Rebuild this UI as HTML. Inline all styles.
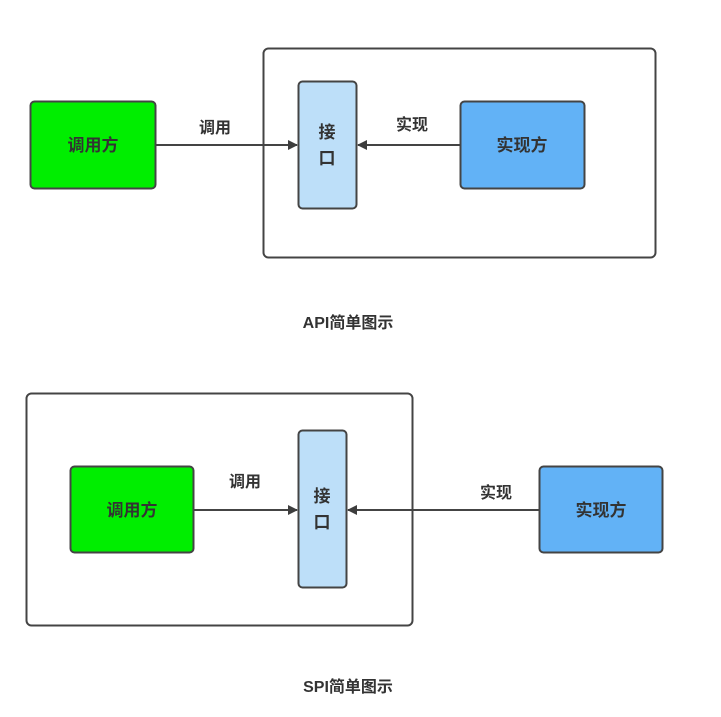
<!DOCTYPE html>
<html><head><meta charset="utf-8"><style>
html,body{margin:0;padding:0;background:#fff;}
</style></head><body>
<svg width="721" height="717" xmlns="http://www.w3.org/2000/svg" style="display:block;font-family:'Liberation Sans','Noto Sans CJK SC',sans-serif;">
<defs>
<marker id="a" markerWidth="10" markerHeight="10" refX="9" refY="5" orient="auto" markerUnits="userSpaceOnUse">
<path d="M0,0 L10,5 L0,10 Z" fill="#3d3d3d"/>
</marker>
</defs>
<g stroke="#444" stroke-width="2">
<rect x="263.5" y="48.5" width="392" height="209" rx="5" fill="#fff"/>
<rect x="30.5" y="101.5" width="125" height="87" rx="4" fill="#00ee00"/>
<rect x="298.5" y="81.5" width="58" height="127" rx="4" fill="#bddff9"/>
<rect x="460.5" y="101.5" width="124" height="87" rx="4" fill="#62b2f6"/>
<line x1="156" y1="145" x2="297" y2="145" marker-end="url(#a)"/>
<line x1="460" y1="145" x2="358" y2="145" marker-end="url(#a)"/>

<rect x="26.5" y="393.5" width="386" height="232" rx="5" fill="#fff"/>
<rect x="70.5" y="466.5" width="123" height="86" rx="4" fill="#00ee00"/>
<rect x="298.5" y="430.5" width="48" height="157" rx="4" fill="#bddff9"/>
<rect x="539.5" y="466.5" width="123" height="86" rx="4" fill="#62b2f6"/>
<line x1="194" y1="510" x2="297" y2="510" marker-end="url(#a)"/>
<line x1="539" y1="510" x2="348" y2="510" marker-end="url(#a)"/>
</g>
<g fill="#333" font-weight="bold" text-anchor="middle">
<text x="93" y="151" font-size="17">调用方</text>
<text x="327" y="138" font-size="17">接</text>
<text x="327" y="164" font-size="17">口</text>
<text x="522" y="151" font-size="17">实现方</text>
<text x="215" y="133" font-size="16">调用</text>
<text x="412" y="130" font-size="16">实现</text>
<text x="348" y="328" font-size="16">API简单图示</text>

<text x="132" y="516" font-size="17">调用方</text>
<text x="322" y="502" font-size="17">接</text>
<text x="322" y="528" font-size="17">口</text>
<text x="601" y="516" font-size="17">实现方</text>
<text x="245" y="487" font-size="16">调用</text>
<text x="496" y="498" font-size="16">实现</text>
<text x="348" y="692" font-size="16">SPI简单图示</text>
</g>
</svg>
</body></html>
